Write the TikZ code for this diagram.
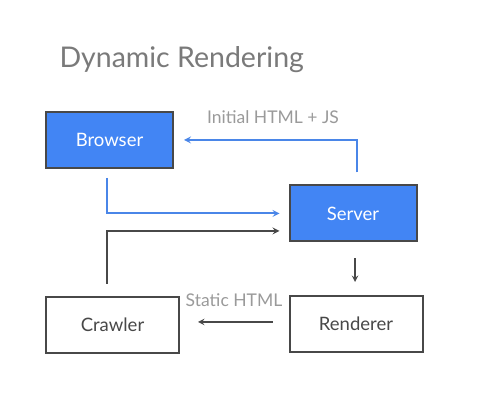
\documentclass[tikz,border=0pt]{standalone}
\usepackage{fontspec}
\setmainfont{Lato}
\usetikzlibrary{arrows}
\definecolor{gblue}{HTML}{4285F4}
\definecolor{lineblue}{HTML}{4A86E8}
\definecolor{darkline}{HTML}{484848}
\definecolor{titlegray}{HTML}{7A7A7A}
\definecolor{labelgray}{HTML}{9A9A9A}
\tikzset{
  bluebox/.style={draw=darkline,line width=2pt,fill=gblue,text=white,minimum width=127pt,minimum height=56pt,font=\fontsize{18.5}{22}\selectfont},
  whitebox/.style={draw=darkline,line width=2pt,fill=white,text=darkline,minimum width=133pt,minimum height=56pt,font=\fontsize{18.5}{22}\selectfont},
  flowlabel/.style={text=labelgray,font=\fontsize{17.5}{20}\selectfont},
}
\begin{document}
\begin{tikzpicture}[>=stealth,x=1pt,y=-1pt]
	\useasboundingbox[fill=white] (0,0) rectangle (480,414);
	\node[anchor=base west,text=titlegray,font=\fontsize{28.5}{34}\selectfont] (title) at (56,68) {Dynamic Rendering};
	% Các khối chính
	\node[bluebox] (browser) at (109.5,140) {Browser};
	\node[bluebox] (server) at (353,213.5) {Server};
	\node[whitebox] (crawler) at (112.5,325) {Crawler};
	\node[whitebox] (renderer) at (356,324) {Renderer};
	% Các mũi tên
	\draw[->,lineblue,line width=2pt,shorten <=12pt,shorten >=10pt] ([xshift=4pt]server.north) |- (browser.east);
	\node[flowlabel] (initlbl) at (273,117) {Initial HTML + JS};
	\draw[->,lineblue,line width=2pt,shorten <=9pt,shorten >=9pt] ([xshift=-3pt]browser.south) |- (server.west);
	\draw[->,darkline,line width=2pt,shorten <=12pt,shorten >=9pt] ([xshift=-6pt]crawler.north) |- ([yshift=-17.5pt]server.west);
	\draw[->,darkline,line width=1.8pt,shorten <=16pt,shorten >=13pt] ([xshift=2pt]server.south) -- ([xshift=-1pt]renderer.north);
	\draw[->,darkline,line width=1.8pt,shorten <=16pt,shorten >=18pt] ([yshift=2pt]renderer.west) -- ([yshift=2pt]renderer.west -| crawler.east);
	\node[flowlabel] (statlbl) at (234,300) {Static HTML};
\end{tikzpicture}
\end{document}
